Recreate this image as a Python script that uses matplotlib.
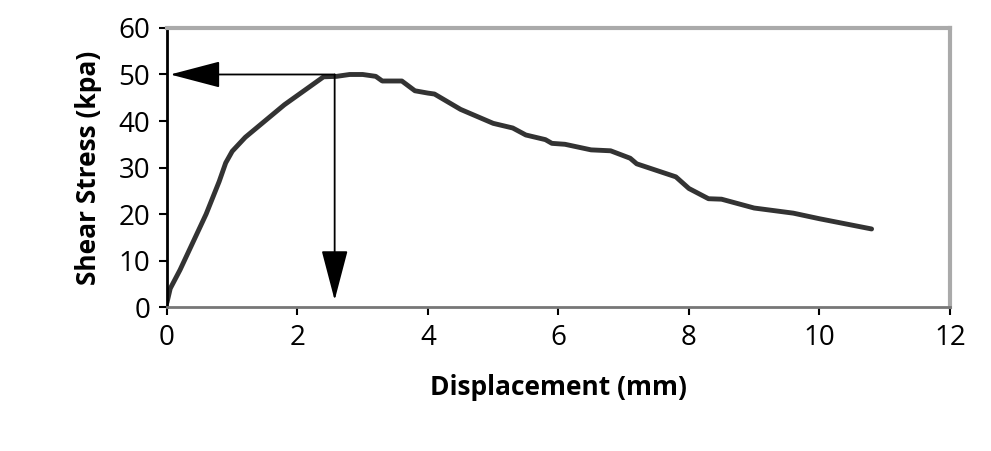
import matplotlib
matplotlib.use("Agg")
import matplotlib.pyplot as plt

disp = [0, 0.05, 0.2, 0.4, 0.6, 0.8, 0.9, 1.0, 1.2, 1.5, 1.8, 2.0, 2.2, 2.4, 2.6, 2.8, 3.0, 3.2, 3.3, 3.6, 3.8, 4.0, 4.1, 4.5, 5.0, 5.3, 5.5, 5.8, 5.9, 6.1, 6.5, 6.8, 7.1, 7.2, 7.8, 8.0, 8.3, 8.5, 9.0, 9.6, 10.0, 10.8]
stress = [1, 4, 8, 14, 20, 27, 31, 33.5, 36.5, 40, 43.5, 45.5, 47.5, 49.5, 49.6, 50, 50, 49.6, 48.6, 48.6, 46.5, 46, 45.8, 42.5, 39.5, 38.5, 37, 36, 35.2, 35, 33.8, 33.6, 32, 30.8, 28, 25.5, 23.3, 23.2, 21.3, 20.2, 19, 16.8]
peak_x, peak_y = 2.57, 50

plt.rcParams['font.family'] = ['Open Sans', 'DejaVu Sans']
fig = plt.figure(figsize=(9.91, 4.51), dpi=100)
ax = fig.add_axes([0.1685, 0.319, 0.79, 0.619])
ax.plot(disp, stress, color='#333333', lw=3.5, solid_capstyle='round')
ax.set_xlim(0, 12)
ax.set_ylim(0, 60)
ax.set_xticks(range(0, 13, 2))
ax.set_yticks(range(0, 61, 10))
ax.tick_params(labelsize=20, length=6, width=1.5, direction='out', pad=6)
for s in ['top', 'right']:
    ax.spines[s].set_color('#aaaaaa'); ax.spines[s].set_linewidth(3)
ax.spines['bottom'].set_color('#777777'); ax.spines['bottom'].set_linewidth(2)
ax.spines['left'].set_color('black'); ax.spines['left'].set_linewidth(2)
ax.set_xlabel('Displacement (mm)', fontsize=19, fontweight='bold', labelpad=16)
ax.set_ylabel('Shear Stress (kpa)', fontsize=19, fontweight='bold', labelpad=12)
arrow = dict(arrowstyle='-|>,head_length=1.6,head_width=0.42', mutation_scale=20,
             color='black', lw=1.3, shrinkA=0, shrinkB=0)
ax.annotate('', xy=(0.05, peak_y), xytext=(peak_x, peak_y), arrowprops=arrow)
ax.annotate('', xy=(peak_x, 1.5), xytext=(peak_x, peak_y), arrowprops=arrow)
fig.savefig('out.png', dpi=100)
